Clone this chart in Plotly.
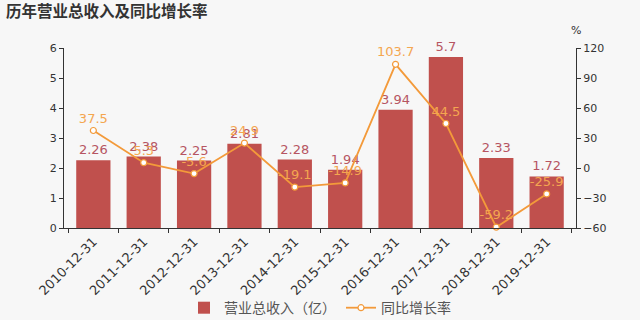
import plotly.graph_objects as go

categories = ["2010-12-31", "2011-12-31", "2012-12-31", "2013-12-31", "2014-12-31",
              "2015-12-31", "2016-12-31", "2017-12-31", "2018-12-31", "2019-12-31"]
revenue = [2.26, 2.38, 2.25, 2.81, 2.28, 1.94, 3.94, 5.7, 2.33, 1.72]
growth = [37.5, 5.3, -5.6, 24.9, -19.1, -14.9, 103.7, 44.5, -59.2, -25.9]
left_ticks = [0, 1, 2, 3, 4, 5, 6]
right_ticks = [-60, -30, 0, 30, 60, 90, 120]

font_family = "DejaVu Sans, Noto Sans CJK SC, sans-serif"
bar_color = "#c0504d"
line_color = "#f39a3a"

fig = go.Figure()
fig.add_trace(go.Bar(
    x=categories, y=revenue, name="营业总收入（亿）",
    marker=dict(color=bar_color, line=dict(width=0)),
    text=[f"{v:g}" for v in revenue], textposition="outside",
    textfont=dict(color="#b65562", size=13, family=font_family),
    cliponaxis=False,
))
fig.add_trace(go.Scatter(
    x=categories, y=growth, name="同比增长率", yaxis="y2",
    mode="lines+markers+text",
    line=dict(color=line_color, width=1.8),
    marker=dict(size=6, color="white", line=dict(color=line_color, width=1.2)),
    text=[f"{v:g}" for v in growth], textposition="top center",
    textfont=dict(color="#f4a650", size=13, family=font_family),
    cliponaxis=False,
))

fig.update_layout(
    width=640, height=320,
    margin=dict(l=64, r=64, t=48, b=92, autoexpand=False),
    paper_bgcolor="#f7f7f7", plot_bgcolor="#f7f7f7",
    font=dict(family=font_family, color="#333333", size=11),
    bargap=0.32,
    showlegend=True,
    legend=dict(orientation="h", x=0.5, xanchor="center", y=-0.445, yanchor="middle",
                font=dict(size=14, color="#555555"), bgcolor="rgba(0,0,0,0)",
                itemwidth=30),
    xaxis=dict(type="category", tickangle=-45, ticks="outside", ticklen=4,
               tickson="boundaries", showline=True, linecolor="#333333",
               tickcolor="#333333", tickfont=dict(size=13, color="#333333"),
               showgrid=False, zeroline=False, automargin=False),
    yaxis=dict(range=[0, 6], tickvals=left_ticks, ticks="outside", ticklen=4,
               showline=True, linecolor="#333333", tickcolor="#333333", automargin=False,
               showgrid=False, zeroline=False, tickfont=dict(size=11, color="#333333")),
    yaxis2=dict(range=[-60, 120], tickvals=right_ticks, overlaying="y", side="right",
                ticks="outside", ticklen=4, showline=True, linecolor="#333333",
                tickcolor="#333333", showgrid=False, zeroline=False, automargin=False,
                tickfont=dict(size=11, color="#333333")),
    annotations=[
        dict(text="<b>历年营业总收入及同比增长率</b>", xref="paper", yref="paper",
             x=0, y=1, xanchor="left", yanchor="middle", xshift=-60, yshift=38,
             showarrow=False,
             font=dict(size=15.5, color="#333333", family="Noto Sans CJK SC, sans-serif")),
        dict(text="%", xref="paper", yref="paper", x=1.0, y=1.0, yshift=18,
             xanchor="center", yanchor="middle", showarrow=False,
             font=dict(size=11, color="#333333")),
    ],
)

fig.write_html("out.html")
